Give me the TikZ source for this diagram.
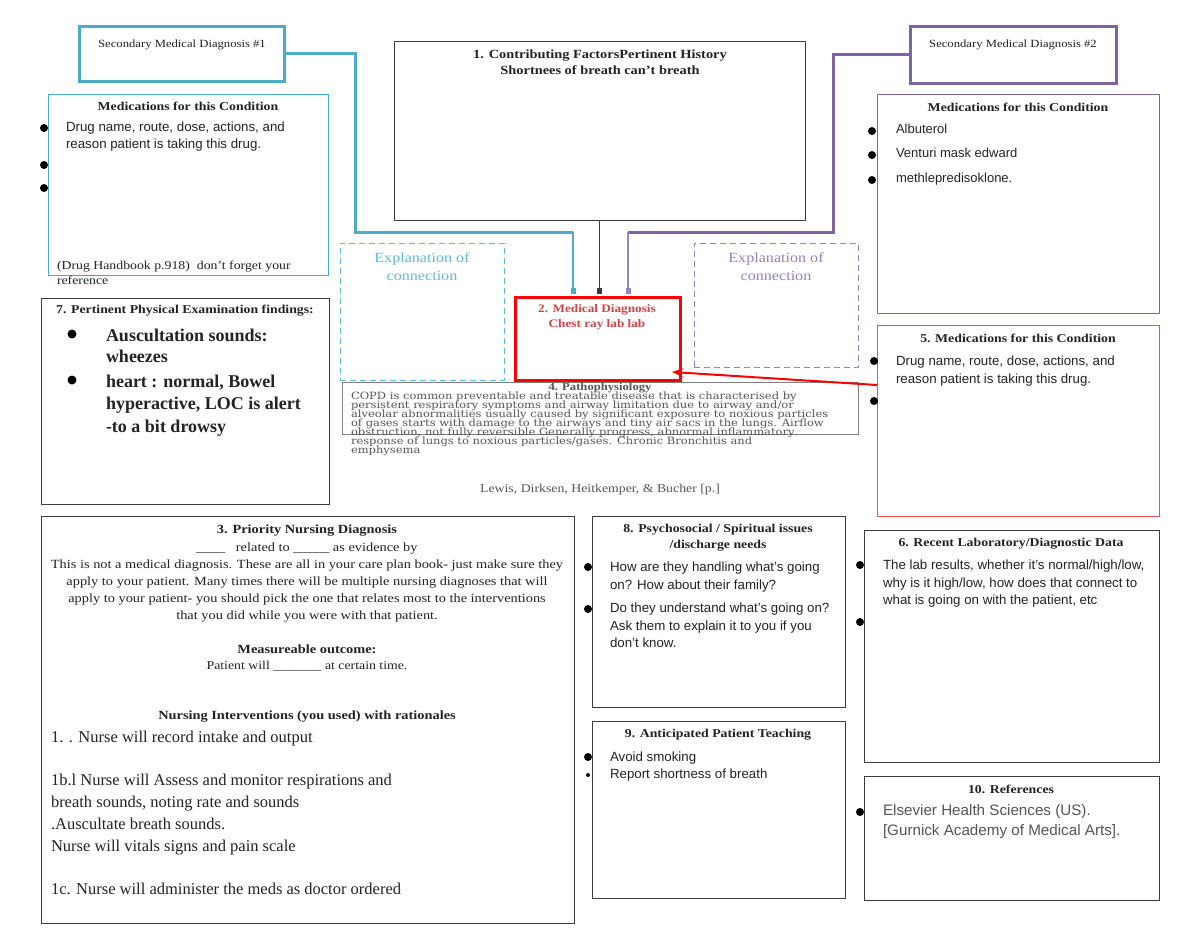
\documentclass[tikz,border=0pt]{standalone}
\usepackage{fontspec}
\setmainfont{Liberation Serif}[FakeStretch=1.15]
\setsansfont{Liberation Sans}
\newfontfamily\timesf{Liberation Serif}
\newfontfamily\pathofont{DejaVu Serif}[FakeStretch=1.15]
\newcommand\pathoset{\pathofont\fontsize{10}{9}\selectfont\lineskiplimit=-20pt\relax\lineskip=0pt\relax}
\usetikzlibrary{arrows.meta}
\definecolor{tealc}{RGB}{75,172,198}
\definecolor{tealt}{RGB}{100,185,212}
\definecolor{purc}{RGB}{128,100,162}
\definecolor{purt}{RGB}{150,130,188}
\definecolor{redc}{RGB}{255,0,0}
\definecolor{redl}{RGB}{240,80,80}
\definecolor{redt}{RGB}{205,70,70}
\definecolor{framec}{RGB}{60,60,60}
\definecolor{txtc}{RGB}{35,35,35}
\definecolor{grayt}{RGB}{85,85,85}
\begin{document}
\begin{tikzpicture}[x=1pt,y=-1pt,
  frame/.style={draw=framec, rectangle, inner sep=0pt, outer sep=0pt, line width=1pt},
  dashframe/.style={frame, dash pattern=on 6pt off 4pt},
  txt/.style={inner sep=0pt, outer sep=0pt, text=txtc},
  ttl/.style={txt, font=\bfseries\fontsize{12}{16}\selectfont, align=center},
  sanstxt/.style={txt, font=\sffamily\fontsize{13.3}{17}\selectfont, align=left, anchor=north west},
  bul/.style={fill=black},
  tealline/.style={draw=tealc, line width=3pt},
  purline/.style={draw=purc, line width=3pt},
  tipsq/.style={-{Square[length=6pt,width=5pt]}, shorten >=3pt}
]
\useasboundingbox (0,0) rectangle (1200,927);
\fill[white] (0,0) rectangle (1200,927);

% ---------- frames ----------
\node[frame, draw=tealc, line width=3pt, minimum width=205pt, minimum height=55pt] (sec1) at (181.5,53.5) {};
\node[frame, draw=tealc, minimum width=280pt, minimum height=181pt] (medL) at (188,184.5) {};
\node[frame, minimum width=411pt, minimum height=179pt] (box1) at (599.5,130.5) {};
\node[frame, draw=purc, line width=3pt, minimum width=206pt, minimum height=57pt] (sec2) at (1013,54.5) {};
\node[frame, draw=purc, minimum width=282pt, minimum height=219pt] (medR) at (1018,203.5) {};
\node[dashframe, draw=tealt, minimum width=164pt, minimum height=137pt] (expL) at (422,311.5) {};
\node[dashframe, draw=purt, minimum width=164pt, minimum height=124pt] (expR) at (776,305) {};
\node[frame, draw=redc, line width=3pt, minimum width=165pt, minimum height=83pt] (box2) at (597.5,338.5) {};
\node[frame, draw=gray, minimum width=516pt, minimum height=52pt] (box4) at (600,408) {};
\node[frame, minimum width=288pt, minimum height=206pt] (box7) at (185,401) {};
\node[frame, draw=redl, minimum width=282pt, minimum height=191pt] (box5) at (1018,420.5) {};
\node[frame, minimum width=533pt, minimum height=407pt] (box3) at (307.5,719.5) {};
\node[frame, minimum width=253pt, minimum height=191pt] (box8) at (718.5,611.5) {};
\node[frame, minimum width=253pt, minimum height=177pt] (box9) at (718.5,809.5) {};
\node[frame, minimum width=295pt, minimum height=232pt] (box6) at (1011.5,646) {};
\node[frame, minimum width=295pt, minimum height=124pt] (box10) at (1011.5,838) {};

% ---------- connectors ----------
\coordinate (tA) at (355,232);
\coordinate (tB) at (573,232);
\draw[tealline] (sec1.east) -- (sec1.east -| tA) -- (tA) -- (tB);
\draw[draw=tealc, line width=1.2pt, tipsq, tealc] (tB) -- (tB |- box2.north);
\coordinate (pA) at (833,232);
\coordinate (pB) at (628,232);
\draw[purline] (sec2.west) -- (sec2.west -| pA) -- (pA) -- (pB);
\draw[draw=purt, line width=1.2pt, tipsq, purt] (pB) -- (pB |- box2.north);
\draw[draw=framec, line width=1.2pt, tipsq, framec] (box1.south) -- (box1.south |- box2.north);
\draw[draw=redc, line width=2pt, -{Stealth[length=11pt,width=9pt]}] ([yshift=35.5pt]box5.west) -- ([xshift=-8pt,yshift=-33.5pt]box2.east);

% ---------- texts ----------
\node[txt, font=\fontsize{11}{14}\selectfont] (sec1t) at (182,45) {Secondary Medical Diagnosis \#1};
\node[txt, font=\fontsize{11}{14}\selectfont] (sec2t) at (1013,45) {Secondary Medical Diagnosis \#2};

\node[ttl] (medLt) at (188,106) {Medications for this Condition};
\node[sanstxt] (medLb) at (66,122) {Drug name, route, dose, actions, and\\reason patient is taking this drug.};
\node[txt, font=\fontsize{12}{15}\selectfont, align=left, anchor=north west] (medLr) at (57,261) {(Drug Handbook p.918)~ don't forget your\\reference};
\fill[bul] (44,128) circle (4pt) (44,165) circle (4pt) (44,188) circle (4pt);

\node[ttl, font=\bfseries\fontsize{12.5}{16}\selectfont] (box1t) at (600,62) {1. Contributing FactorsPertinent History\\Shortnees of breath can't breath};

\node[ttl] (medRt) at (1018,107) {Medications for this Condition};
\node[sanstxt, font=\sffamily\fontsize{13}{24.5}\selectfont] (medRb) at (896,124) {Albuterol\\Venturi mask edward\\methlepredisoklone.};
\fill[bul] (872,131) circle (4pt) (872,155) circle (4pt) (872,180) circle (4pt);

\node[txt, text=tealt, font=\fontsize{14}{18}\selectfont, align=center] (expLt) at (422,267) {Explanation of\\connection};
\node[txt, text=purt, font=\fontsize{14}{18}\selectfont, align=center] (expRt) at (776,267) {Explanation of\\connection};

\node[ttl, text=redt, font=\bfseries\fontsize{11.5}{15}\selectfont] (box2t) at (597,317) {2. Medical Diagnosis\\Chest ray lab lab};

\node[ttl, text=grayt, font=\bfseries\fontsize{11}{9}\selectfont] (box4t) at (600,388) {4. Pathophysiology};
\node[txt, text=grayt, font=\pathoset, align=left, anchor=north west] (box4b) at (351,392) {COPD is common preventable and treatable disease that is characterised by\\persistent respiratory symptoms and airway limitation due to airway and/or\\alveolar abnormalities usually caused by significant exposure to noxious particles\\of gases starts with damage to the airways and tiny air sacs in the lungs. Airflow\\obstruction, not fully reversible Generally progress, abnormal inflammatory\\response of lungs to noxious particles/gases. Chronic Bronchitis and\\emphysema};
\node[txt, text=grayt, font=\fontsize{12}{12}\selectfont] (foot) at (600,490) {Lewis, Dirksen, Heitkemper, \& Bucher [p.]};

\node[ttl] (box7t) at (185,311) {7. Pertinent Physical Examination findings:};
\node[txt, font=\timesf\bfseries\fontsize{18}{21}\selectfont, align=left, anchor=north west] (box7a) at (106,329) {Auscultation sounds:\\wheezes};
\node[txt, font=\timesf\bfseries\fontsize{18}{22.5}\selectfont, align=left, anchor=north west] (box7b) at (106,375) {heart : normal, Bowel\\hyperactive, LOC is alert\\-to a bit drowsy};
\fill[bul] (72,334) circle (4.5pt) (72,380) circle (4.5pt);

\node[ttl] (box5t) at (1018,338) {5. Medications for this Condition};
\node[sanstxt, font=\sffamily\fontsize{13.3}{18}\selectfont] (box5b) at (896,356) {Drug name, route, dose, actions, and\\reason patient is taking this drug.};
\fill[bul] (874,361) circle (4pt) (874,401) circle (4pt);

\node[ttl, font=\bfseries\fontsize{12.5}{16}\selectfont] (box3t) at (307,531) {3. Priority Nursing Diagnosis};
\node[txt, font=\fontsize{12.5}{17}\selectfont, align=center, anchor=north] (box3b) at (307,543) {\_\_\_\_~~ related to \_\_\_\_\_ as evidence by\\This is not a medical diagnosis. These are all in your care plan book- just make sure they\\apply to your patient. Many times there will be multiple nursing diagnoses that will\\apply to your patient- you should pick the one that relates most to the interventions\\that you did while you were with that patient.};
\node[ttl, font=\bfseries\fontsize{12.5}{16}\selectfont] (box3m) at (307,649) {Measureable outcome:};
\node[txt, font=\fontsize{12}{16}\selectfont] (box3p) at (307,666) {Patient will \_\_\_\_\_\_\_ at certain time.};
\node[ttl, font=\bfseries\fontsize{12.5}{16}\selectfont] (box3n) at (307,717) {Nursing Interventions (you used) with rationales};
\node[txt, font=\timesf\fontsize{16.5}{22}\selectfont, align=left, anchor=north west] (box3i) at (51,731) {1. . Nurse will record intake and output\\[21pt]1b.l Nurse will Assess and monitor respirations and\\breath sounds, noting rate and sounds\\.Auscultate breath sounds.\\Nurse will vitals signs and pain scale\\[21pt]1c. Nurse will administer the meds as doctor ordered};

\node[ttl] (box8t) at (718,538) {8. Psychosocial / Spiritual issues\\/discharge needs};
\node[sanstxt, font=\sffamily\fontsize{13.3}{18}\selectfont] (box8a) at (610,562) {How are they handling what's going\\on? How about their family?};
\node[sanstxt, font=\sffamily\fontsize{13.3}{17.5}\selectfont] (box8b) at (610,603) {Do they understand what's going on?\\Ask them to explain it to you if you\\don't know.};
\fill[bul] (588,567) circle (4pt) (588,609) circle (4pt);

\node[ttl] (box9t) at (718,735) {9. Anticipated Patient Teaching};
\node[sanstxt] (box9b) at (610,752) {Avoid smoking\\Report shortness of breath};
\fill[bul] (588,757) circle (4pt) (588,775) circle (2pt);

\node[ttl] (box6t) at (1011,544) {6. Recent Laboratory/Diagnostic Data};
\node[sanstxt, font=\sffamily\fontsize{13.3}{17.5}\selectfont] (box6b) at (883,560) {The lab results, whether it's normal/high/low,\\why is it high/low, how does that connect to\\what is going on with the patient, etc};
\fill[bul] (860,565) circle (4pt) (860,622) circle (4pt);

\node[ttl] (box10t) at (1011,789) {10. References};
\node[sanstxt, text=grayt, font=\sffamily\fontsize{15.2}{20}\selectfont] (box10b) at (883,804) {Elsevier Health Sciences (US).\\{[}Gurnick Academy of Medical Arts{]}.};
\fill[bul] (860,812) circle (4pt);
\end{tikzpicture}
\end{document}
